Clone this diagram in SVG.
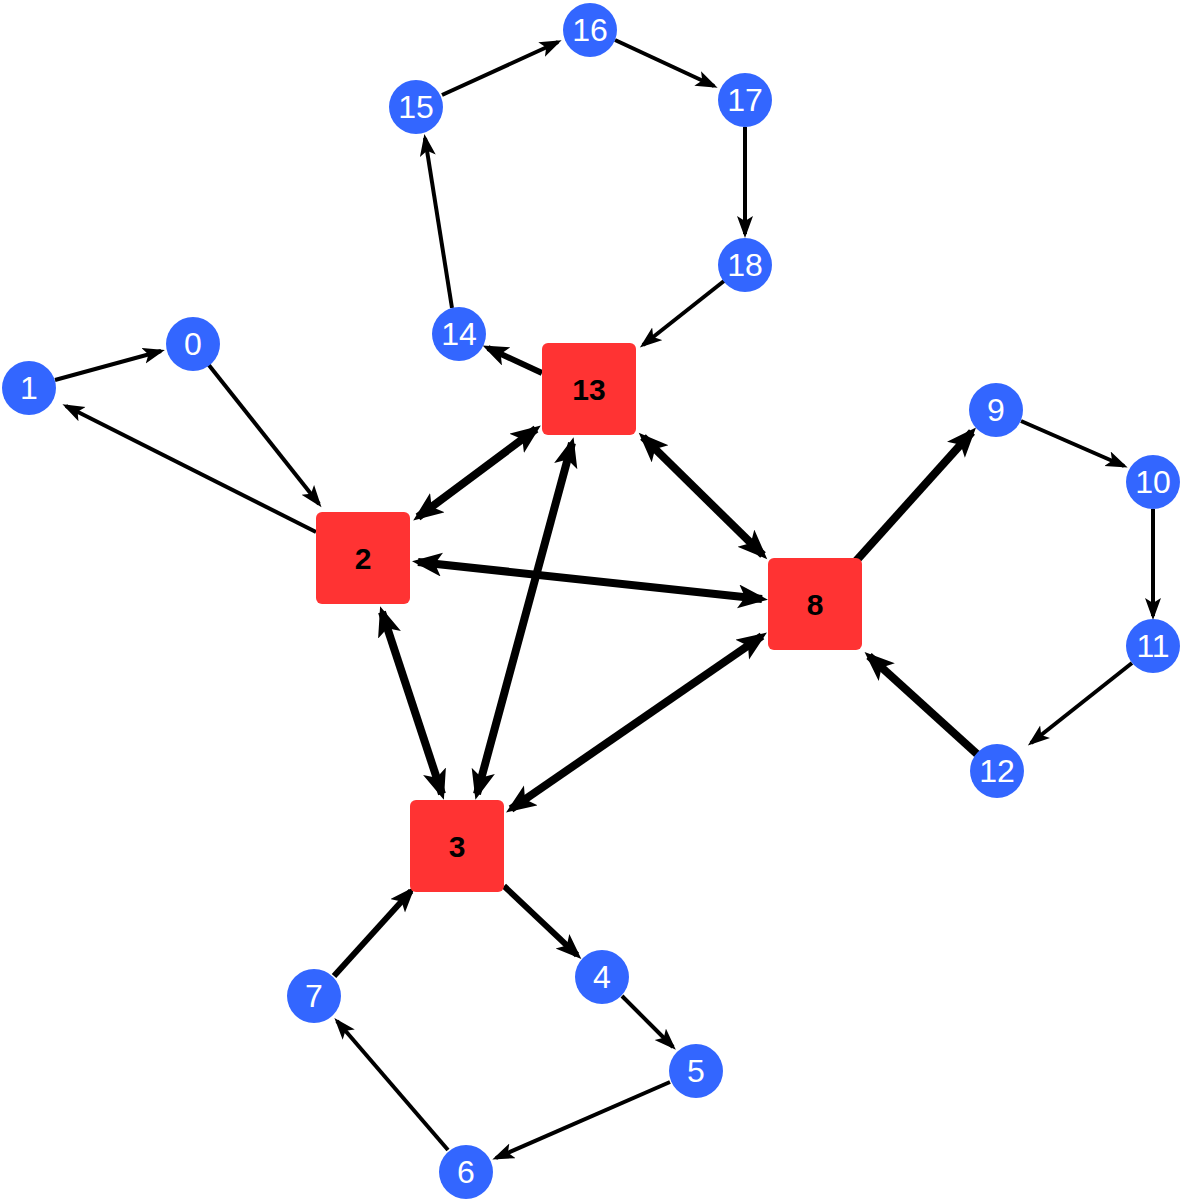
<svg xmlns="http://www.w3.org/2000/svg" width="1181" height="1199" viewBox="0 0 1181 1199">
<style>
.c{fill:#3366ff}
.s{fill:#ff3333}
.t{font-family:"Liberation Sans",Arial,sans-serif;font-size:32px;fill:#fff;text-anchor:middle;dominant-baseline:central}
.b{font-family:"Liberation Sans",Arial,sans-serif;font-size:30px;font-weight:bold;fill:#000;text-anchor:middle;dominant-baseline:central}
line{stroke:#000}
.e1{stroke-width:4;marker-end:url(#a1)}
.e2{stroke-width:6;marker-end:url(#a2)}
.e3{stroke-width:8;marker-end:url(#a3)}
.d{stroke-width:8;marker-start:url(#a3);marker-end:url(#a3)}
</style>
<defs>
<marker id="a1" markerUnits="userSpaceOnUse" markerWidth="24" markerHeight="20" refX="18" refY="8" orient="auto-start-reverse"><path d="M0,0L22,8L0,16L5,8z"/></marker>
<marker id="a2" markerUnits="userSpaceOnUse" markerWidth="28" markerHeight="22" refX="20" refY="10" orient="auto-start-reverse"><path d="M0,0L26,10L0,20L6,10z"/></marker>
<marker id="a3" markerUnits="userSpaceOnUse" markerWidth="32" markerHeight="26" refX="24" refY="12" orient="auto-start-reverse"><path d="M0,0L30,12L0,24L7,12z"/></marker>
</defs>
<g id="edges">
<line class="e1" x1="55" y1="380" x2="161" y2="351"/>
<line class="e1" x1="208" y1="364" x2="319" y2="504"/>
<line class="e1" x1="316" y1="532" x2="66" y2="406"/>
<line class="e1" x1="452" y1="308" x2="425" y2="138"/>
<line class="e1" x1="442" y1="95" x2="558" y2="42"/>
<line class="e1" x1="615" y1="40" x2="714" y2="86"/>
<line class="e1" x1="745" y1="127" x2="745" y2="234"/>
<line class="e1" x1="724" y1="281" x2="643" y2="345"/>
<line class="e2" x1="542" y1="373" x2="488" y2="348"/>
<line class="e1" x1="1021" y1="421" x2="1124" y2="466"/>
<line class="e1" x1="1153" y1="509" x2="1153" y2="616"/>
<line class="e1" x1="1132" y1="663" x2="1031" y2="743"/>
<line class="e3" x1="977" y1="754" x2="869" y2="656"/>
<line class="e3" x1="856" y1="561" x2="972" y2="432"/>
<line class="e2" x1="504" y1="886" x2="577" y2="955"/>
<line class="e1" x1="622" y1="996" x2="673" y2="1047"/>
<line class="e1" x1="670" y1="1082" x2="496" y2="1158"/>
<line class="e1" x1="448" y1="1150" x2="337" y2="1021"/>
<line class="e2" x1="334" y1="976" x2="411" y2="891"/>
<line class="d" x1="418" y1="517" x2="536" y2="429"/>
<line class="d" x1="643" y1="437" x2="763" y2="555"/>
<line class="d" x1="418" y1="562" x2="762" y2="599"/>
<line class="d" x1="382" y1="612" x2="442" y2="794"/>
<line class="d" x1="477" y1="794" x2="572" y2="443"/>
<line class="d" x1="511" y1="809" x2="762" y2="636"/>
</g>
<g id="n13"><rect class="s" x="542" y="343" width="94" height="92" rx="6"/><text class="b" x="589" y="389">13</text></g>
<g id="n2"><rect class="s" x="316" y="512" width="94" height="92" rx="6"/><text class="b" x="363" y="558">2</text></g>
<g id="n8"><rect class="s" x="768" y="558" width="94" height="92" rx="6"/><text class="b" x="815" y="604">8</text></g>
<g id="n3"><rect class="s" x="410" y="800" width="94" height="92" rx="6"/><text class="b" x="457" y="846">3</text></g>
<g id="n0"><circle class="c" cx="193" cy="344" r="27"/><text class="t" x="193" y="344">0</text></g>
<g id="n1"><circle class="c" cx="29" cy="388" r="27"/><text class="t" x="29" y="388">1</text></g>
<g id="n14"><circle class="c" cx="459" cy="334" r="27"/><text class="t" x="459" y="334">14</text></g>
<g id="n15"><circle class="c" cx="416" cy="107" r="27"/><text class="t" x="416" y="107">15</text></g>
<g id="n16"><circle class="c" cx="590" cy="30" r="27"/><text class="t" x="590" y="30">16</text></g>
<g id="n17"><circle class="c" cx="745" cy="100" r="27"/><text class="t" x="745" y="100">17</text></g>
<g id="n18"><circle class="c" cx="745" cy="265" r="27"/><text class="t" x="745" y="265">18</text></g>
<g id="n9"><circle class="c" cx="996" cy="410" r="27"/><text class="t" x="996" y="410">9</text></g>
<g id="n10"><circle class="c" cx="1153" cy="482" r="27"/><text class="t" x="1153" y="482">10</text></g>
<g id="n11"><circle class="c" cx="1153" cy="646" r="27"/><text class="t" x="1153" y="646">11</text></g>
<g id="n12"><circle class="c" cx="997" cy="771" r="27"/><text class="t" x="997" y="771">12</text></g>
<g id="n4"><circle class="c" cx="602" cy="977" r="27"/><text class="t" x="602" y="977">4</text></g>
<g id="n5"><circle class="c" cx="696" cy="1071" r="27"/><text class="t" x="696" y="1071">5</text></g>
<g id="n6"><circle class="c" cx="466" cy="1172" r="27"/><text class="t" x="466" y="1172">6</text></g>
<g id="n7"><circle class="c" cx="314" cy="996" r="27"/><text class="t" x="314" y="996">7</text></g>
</svg>
